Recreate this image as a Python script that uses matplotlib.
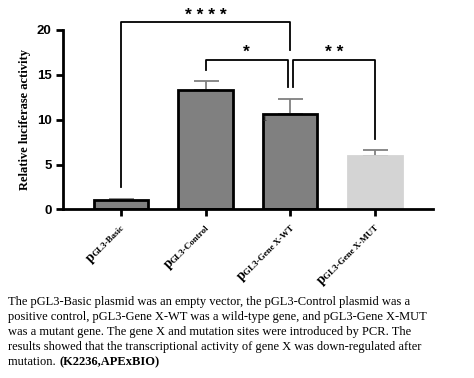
import matplotlib
matplotlib.use("Agg")
import matplotlib.pyplot as plt
import matplotlib.transforms as mtransforms
import numpy as np

groups = ["pGL3-Basic", "pGL3-Control", "pGL3-Gene X-WT", "pGL3-Gene X-MUT"]
means = [1.1, 13.3, 10.6, 6.0]
errs = [0.1, 1.0, 1.7, 0.6]
fills = ["#808080", "#808080", "#808080", "#d4d4d4"]
edges = ["black", "black", "black", "#d4d4d4"]

# brackets: (left x, right x, top y, left leg bottom, right leg bottom, label, label y)
brackets = [
    (0, 2, 20.9, 2.5, 17.8, "* * * *", 21.6),
    (1, 1.97, 16.6, 15.5, 13.6, "*", 17.45),
    (2.03, 3, 16.6, 13.6, 7.8, "* *", 17.45),
]

caption = [
    "The pGL3-Basic plasmid was an empty vector, the pGL3-Control plasmid was a",
    "positive control, pGL3-Gene X-WT was a wild-type gene, and pGL3-Gene X-MUT",
    "was a mutant gene. The gene X and mutation sites were introduced by PCR. The",
    "results showed that the transcriptional activity of gene X was down-regulated after",
]

fig = plt.figure(figsize=(4.74, 3.78), dpi=100)
ax = fig.add_axes([0.1336, 0.446, 0.78, 0.475])

x = np.arange(len(groups))
ax.bar(x, means, width=0.64, color=fills, edgecolor=edges, linewidth=2, zorder=2)
ax.errorbar(x, means, yerr=[np.zeros(len(errs)), errs], fmt="none", ecolor="#808080",
            elinewidth=1.3, capsize=9, capthick=1.3, zorder=1)

for x0, x1, top, b0, b1, lab, ly in brackets:
    ax.plot([x0, x0, x1, x1], [b0, top, top, b1], color="black", lw=1.3, clip_on=False)
    ax.text((x0 + x1) / 2, ly, lab, ha="center", va="center", fontsize=12.5,
            fontweight="bold", family="Liberation Sans", clip_on=False)

ax.text(2.0 - 0.33, 9.9, "1", fontsize=5, color="#333333", family="Liberation Sans")

ax.set_xlim(-0.677, 3.684)
ax.set_ylim(0, 20)
ax.set_yticks([0, 5, 10, 15, 20])
ax.set_xticks(x)
ax.set_xticklabels([])
for t in ax.get_yticklabels():
    t.set_family("Liberation Sans")
    t.set_fontweight("bold")
    t.set_fontsize(9.5)
ax.set_ylabel("Relative luciferase activity", family="Liberation Serif",
              fontweight="bold", fontsize=9)
ax.spines["top"].set_visible(False)
ax.spines["right"].set_visible(False)
ax.spines["left"].set_linewidth(2)
ax.spines["bottom"].set_linewidth(2)
ax.tick_params(width=2, length=5)

# x labels: big "p" followed by smaller rest, rotated 45 deg, ending at the tick
renderer = fig.canvas.get_renderer()
trans = mtransforms.blended_transform_factory(ax.transData, ax.transAxes)
lab_kw = dict(family="Liberation Serif", fontweight="bold", rotation=45,
              rotation_mode="anchor", ha="right", va="baseline")
bx, by = 4, -19
for i, g in enumerate(groups):
    base = mtransforms.offset_copy(trans, fig, x=bx, y=by, units="dots")
    ax.text(i, 0, g[1:], transform=base, fontsize=6.5, clip_on=False, **lab_kw)
    tmp = fig.text(0, 0, g[1:], fontsize=6.5, family="Liberation Serif", fontweight="bold")
    w = tmp.get_window_extent(renderer).width
    tmp.remove()
    d = w / np.sqrt(2)
    ptrans = mtransforms.offset_copy(trans, fig, x=bx - d + 0.5, y=by - d + 0.5, units="dots")
    ax.text(i, 0, g[0], transform=ptrans, fontsize=10, clip_on=False, **lab_kw)

y = 302
for line in caption:
    fig.text(8 / 474, 1 - y / 378, line, family="Liberation Serif", fontsize=9,
             va="center", ha="left")
    y += 15
fig.text(8 / 474, 1 - y / 378, "mutation. ", family="Liberation Serif", fontsize=9,
         va="center", ha="left")
fig.text(59 / 474, 1 - y / 378, "(K2236,APExBIO)", family="Liberation Serif",
         fontsize=9, fontweight="bold", va="center", ha="left")

fig.savefig("out.png", dpi=100)
